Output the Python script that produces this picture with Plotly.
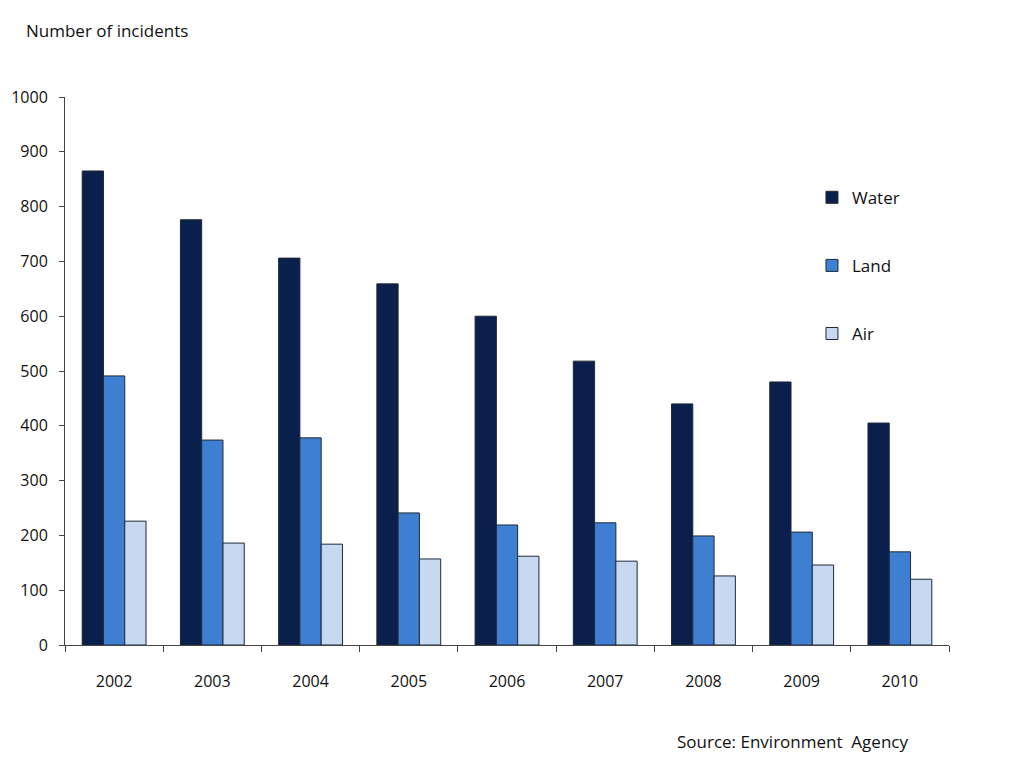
import plotly.graph_objects as go

years = ["2002", "2003", "2004", "2005", "2006", "2007", "2008", "2009", "2010"]
water = [865, 776, 706, 659, 600, 518, 440, 480, 405]
land = [491, 374, 378, 241, 219, 223, 199, 206, 170]
air = [226, 186, 184, 157, 162, 153, 126, 146, 120]
series_names = ["Water", "Land", "Air"]
colors = ["#0b1f4d", "#3f7fd2", "#c6d9f1"]
y_ticks = [0, 100, 200, 300, 400, 500, 600, 700, 800, 900, 1000]

font_family = "Open Sans, Liberation Sans, sans-serif"

fig = go.Figure()
for name, vals, col in zip(series_names, [water, land, air], colors):
    fig.add_trace(go.Bar(
        x=years, y=vals, name=name, legendgroup=name,
        marker=dict(color=col, line=dict(color="#1e2a38", width=1)),
    ))

fig.update_layout(
    width=1024, height=768,
    paper_bgcolor="white", plot_bgcolor="white",
    margin=dict(l=57, r=83, t=89, b=131),
    barmode="group", bargap=0.35, bargroupgap=0,
    font=dict(family=font_family, size=16, color="#111111"),
    legend=dict(
        x=0.845, y=0.849, xanchor="left", yanchor="top",
        traceorder="grouped", tracegroupgap=43,
        font=dict(size=17, color="#111111"),
        bgcolor="rgba(0,0,0,0)",
        itemwidth=30,
    ),
    xaxis=dict(
        showline=True, linecolor="#444", linewidth=1,
        ticks="outside", tickson="boundaries", ticklen=6, tickcolor="#444",
        showgrid=False, tickfont=dict(size=16), ticklabelstandoff=22,
        automargin=False,
    ),
    yaxis=dict(
        range=[0, 1000], tickvals=y_ticks,
        showline=True, linecolor="#444", linewidth=1,
        ticks="outside", ticklen=5, tickcolor="#444",
        showgrid=False, zeroline=False, tickfont=dict(size=16),
        ticklabelstandoff=8, automargin=False,
    ),
    annotations=[
        dict(text="Number of incidents", xref="paper", yref="paper",
             x=-0.046, y=1.122, xanchor="left", yanchor="middle",
             showarrow=False, font=dict(size=17, color="#111111")),
        dict(text="Source: Environment  Agency", xref="paper", yref="paper",
             x=0.956, y=-0.177, xanchor="right", yanchor="middle",
             showarrow=False, font=dict(size=17, color="#111111")),
    ],
)

fig.write_html("out.html")
